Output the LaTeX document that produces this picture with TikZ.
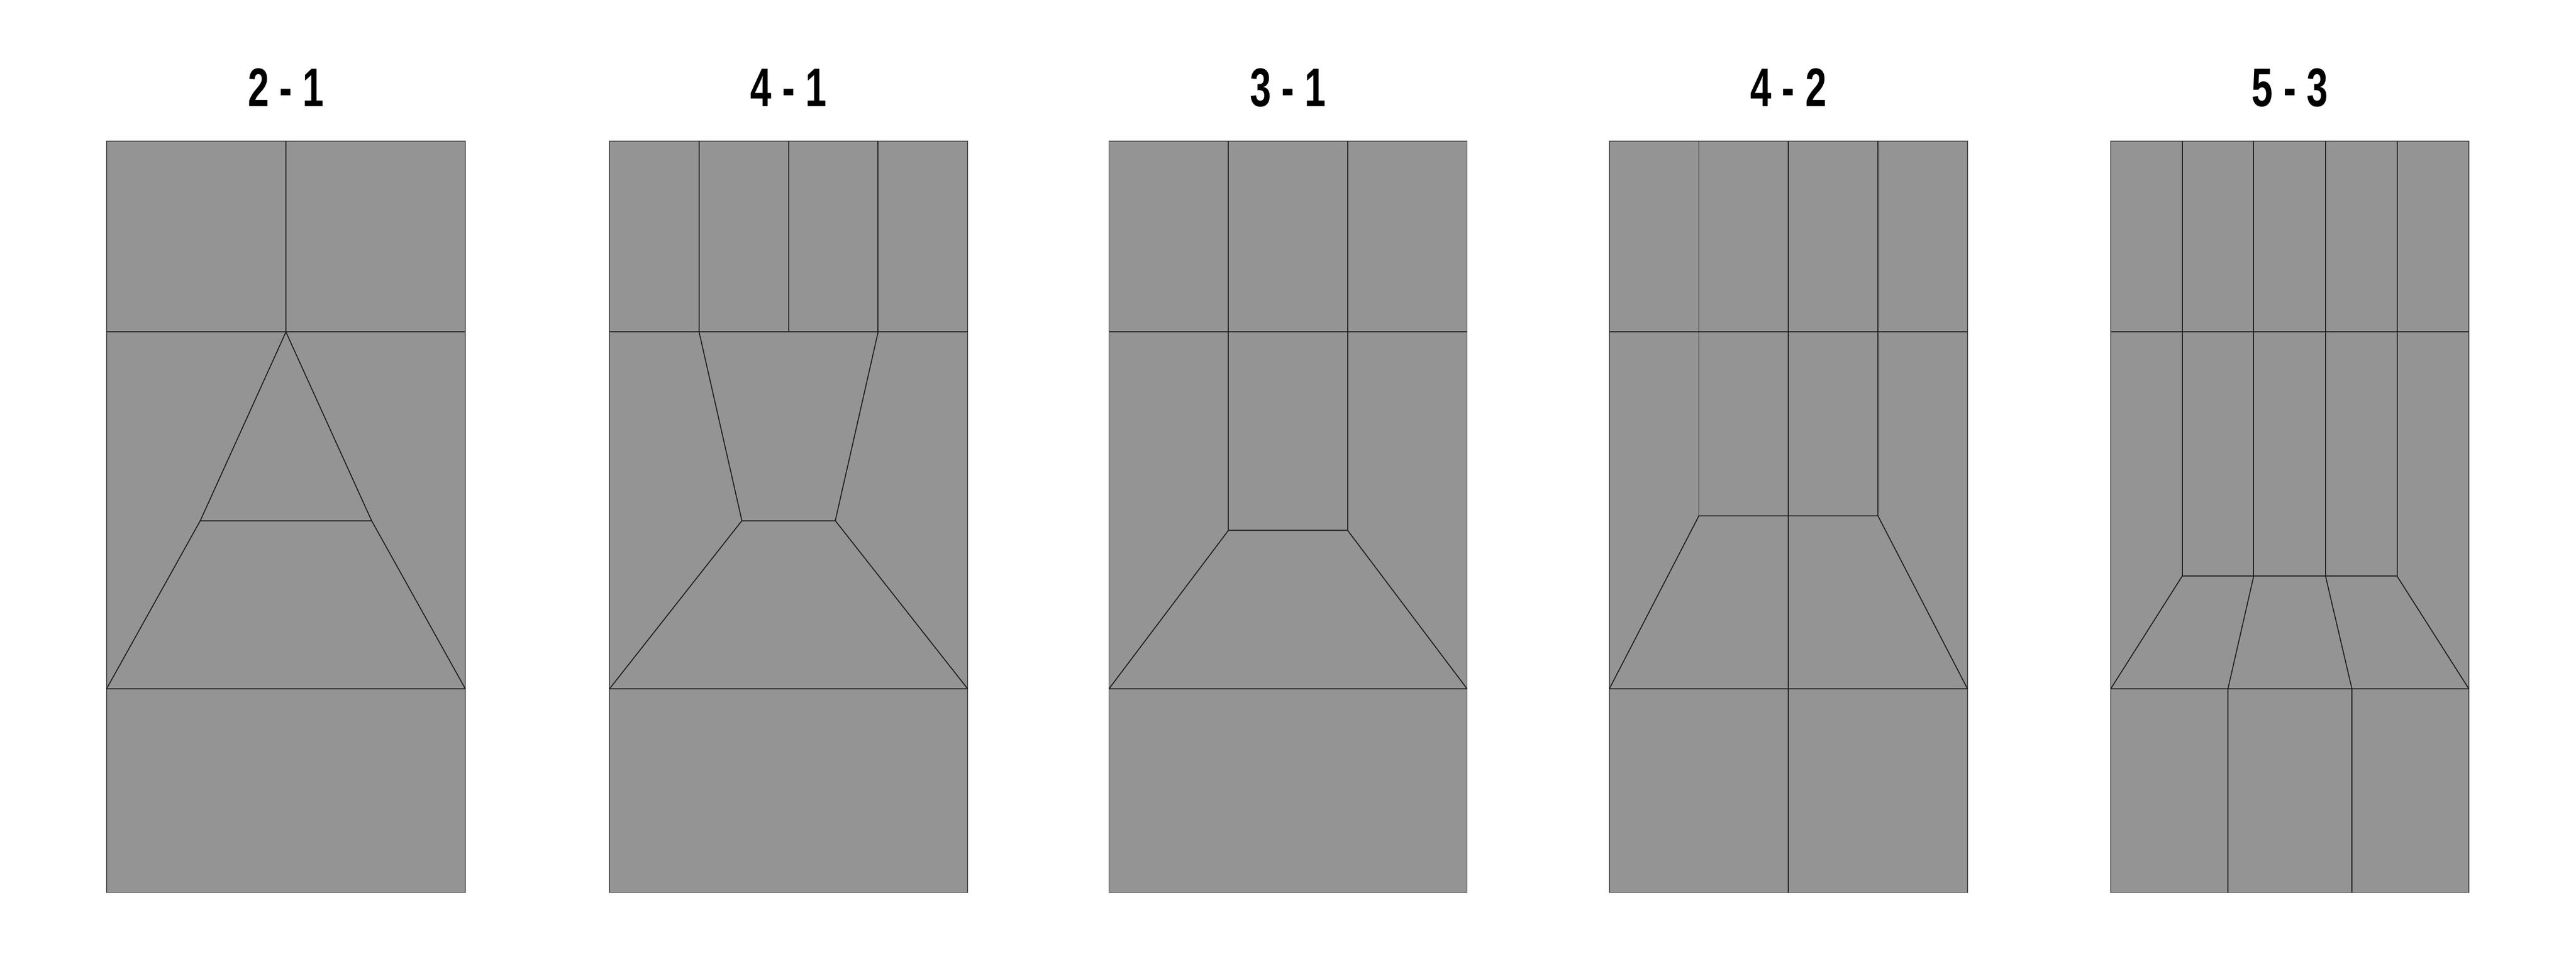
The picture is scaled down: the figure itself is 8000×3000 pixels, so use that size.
\documentclass[tikz,border=0pt]{standalone}
\usepackage{fontspec}
\newfontfamily\titlefont[FakeStretch=0.7]{Liberation Sans}
\definecolor{meshgray}{RGB}{148,148,148}
\definecolor{edgecol}{RGB}{30,30,30}
\begin{document}
\begin{tikzpicture}[x=0.01cm,y=-0.01cm,
  panel/.style={fill=meshgray,draw=edgecol!80,line width=0.03cm},
  edge/.style={draw=edgecol,line width=0.03cm,line join=round},
  title/.style={font=\titlefont\bfseries\fontsize{48}{58}\selectfont,inner sep=0pt,text=black}]
\useasboundingbox[fill=white] (0,0) rectangle (8000,3000);

% ---------- Panel 1 : 2 - 1 ----------
\node[title] (t1) at (888,272) {2 - 1};
\draw[panel] (331,439) rectangle (1445,2772);
\draw[edge] (331,1031) -- (1445,1031);
\draw[edge] (331,2139) -- (1445,2139);
\draw[edge] (888,439) -- (888,1031);
\draw[edge] (331,2139) -- (622,1617) -- (888,1031) -- (1154,1617) -- (1445,2139);
\draw[edge] (622,1617) -- (1154,1617);

% ---------- Panel 2 : 4 - 1 ----------
\node[title] (t2) at (2449,272) {4 - 1};
\draw[panel] (1893,439) rectangle (3005,2772);
\draw[edge] (1893,1031) -- (3005,1031);
\draw[edge] (1893,2139) -- (3005,2139);
\draw[edge] (2171,439) -- (2171,1031);
\draw[edge] (2449,439) -- (2449,1031);
\draw[edge] (2727,439) -- (2727,1031);
\draw[edge] (1893,2139) -- (2304,1617) -- (2171,1031);
\draw[edge] (3005,2139) -- (2594,1617) -- (2727,1031);
\draw[edge] (2304,1617) -- (2594,1617);

% ---------- Panel 3 : 3 - 1 ----------
\node[title] (t3) at (4000,272) {3 - 1};
\draw[panel] (3444,439) rectangle (4556,2772);
\draw[edge] (3444,1031) -- (4556,1031);
\draw[edge] (3444,2139) -- (4556,2139);
\draw[edge] (3815,439) -- (3815,1647);
\draw[edge] (4185,439) -- (4185,1647);
\draw[edge] (3444,2139) -- (3815,1647) -- (4185,1647) -- (4556,2139);

% ---------- Panel 4 : 4 - 2 ----------
\node[title] (t4) at (5554,272) {4 - 2};
\draw[panel] (4998,439) rectangle (6110,2772);
\draw[edge] (4998,1031) -- (6110,1031);
\draw[edge] (4998,2139) -- (6110,2139);
\draw[edge] (5276,439) -- (5276,1602);
\draw[edge] (5832,439) -- (5832,1602);
\draw[edge] (5554,439) -- (5554,2772);
\draw[edge] (4998,2139) -- (5276,1602) -- (5832,1602) -- (6110,2139);

% ---------- Panel 5 : 5 - 3 ----------
\node[title] (t5) at (7111,272) {5 - 3};
\draw[panel] (6555,439) rectangle (7667,2772);
\draw[edge] (6555,1031) -- (7667,1031);
\draw[edge] (6555,2139) -- (7667,2139);
\draw[edge] (6777,439) -- (6777,1789);
\draw[edge] (6999,439) -- (6999,1789);
\draw[edge] (7222,439) -- (7222,1789);
\draw[edge] (7444,439) -- (7444,1789);
\draw[edge] (6777,1789) -- (7444,1789);
\draw[edge] (6555,2139) -- (6777,1789);
\draw[edge] (7667,2139) -- (7444,1789);
\draw[edge] (6919,2772) -- (6919,2139) -- (6999,1789);
\draw[edge] (7304,2772) -- (7304,2139) -- (7222,1789);
\end{tikzpicture}
\end{document}
